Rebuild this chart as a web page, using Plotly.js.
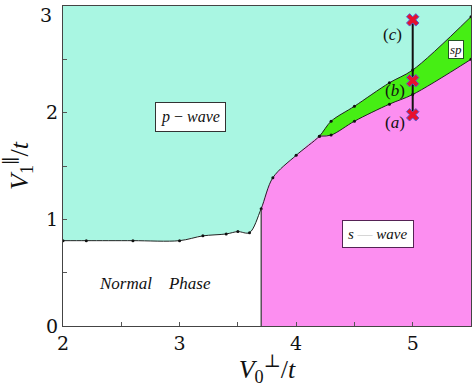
<!DOCTYPE html>
<html>
<head>
<meta charset="utf-8">
<script src="https://cdn.plot.ly/plotly-3.0.1.min.js"></script>
<style>html,body{margin:0;padding:0;background:#fff;}#chart{width:474px;height:387px;}</style>
</head>
<body>
<div id="chart"></div>
<script>
// p-wave lower boundary (Normal/p and s/p and sp/p)
const pBoundX = [2.0, 2.2, 2.6, 3.0, 3.2, 3.4, 3.5, 3.6, 3.7, 3.8, 4.0, 4.2, 4.3, 4.5, 4.8, 5.0, 5.5];
const pBoundY = [0.80, 0.80, 0.80, 0.80, 0.845, 0.863, 0.885, 0.875, 1.10, 1.39, 1.60, 1.78, 1.92, 2.06, 2.28, 2.40, 2.90];
// s-wave upper boundary
const sBoundX = [3.7, 3.8, 4.0, 4.2, 4.3, 4.5, 4.8, 5.0, 5.5];
const sBoundY = [1.10, 1.39, 1.60, 1.78, 1.79, 1.92, 2.08, 2.17, 2.50];
// s-wave left edge
const sEdgeX = [3.7, 3.7];
const sEdgeY = [0, 1.10];
// marked points
const markX = [5, 5, 5];
const markY = [1.98, 2.30, 2.87];
const markLabels = ['(a)', '(b)', '(c)'];
const labelX = [4.85, 4.85, 4.83];
const labelY = [1.91, 2.21, 2.73];
const xTicks = [2, 3, 4, 5];
const yTicks = [0, 1, 2, 3];
const yTickText = ['0', '1', '2', ''];   // top label "3" drawn below as an annotation
const topYLabel = '3';

const AQUA = '#a9f6e2', PINK = '#fc8ef0', GREEN = '#46ee14';
const serif = 'DejaVu Serif, Liberation Serif, serif';
const serif2 = 'Liberation Serif, DejaVu Serif, serif';

const greenX = pBoundX.filter(x => x >= 4.2);
const greenY = pBoundY.filter((y, i) => pBoundX[i] >= 4.2);
const normX = pBoundX.filter(x => x <= 3.7);
const normY = pBoundY.filter((y, i) => pBoundX[i] <= 3.7);
const SM = 0.9;

const traces = [
  {x: greenX, y: greenY, type: 'scatter', mode: 'lines', fill: 'tozeroy', fillcolor: GREEN,
   line: {width: 0, shape: 'spline', smoothing: SM}, hoverinfo: 'skip'},
  {x: sBoundX, y: sBoundY, type: 'scatter', mode: 'lines', fill: 'tozeroy', fillcolor: PINK,
   line: {width: 0, shape: 'spline', smoothing: SM}, hoverinfo: 'skip'},
  {x: normX, y: normY, type: 'scatter', mode: 'lines', fill: 'tozeroy', fillcolor: '#ffffff',
   line: {width: 0, shape: 'spline', smoothing: SM}, hoverinfo: 'skip'},
  {x: pBoundX, y: pBoundY, type: 'scatter', mode: 'lines+markers',
   line: {color: '#222', width: 1, shape: 'spline', smoothing: SM},
   marker: {color: '#111', size: 3}},
  {x: sBoundX.filter(x => x >= 4.2), y: sBoundY.filter((y, i) => sBoundX[i] >= 4.2), type: 'scatter', mode: 'lines+markers',
   line: {color: '#222', width: 1, shape: 'spline', smoothing: SM},
   marker: {color: '#111', size: 3}},
  {x: sEdgeX, y: sEdgeY, type: 'scatter', mode: 'lines', line: {color: '#333', width: 1.2}},
  {x: markX, y: markY, type: 'scatter', mode: 'lines+markers',
   line: {color: '#111', width: 2},
   marker: {symbol: 'x', size: 11, color: '#e8112d', line: {color: '#5a5ad0', width: 1}}}
];

const annotations = [
  {x: 3.09, y: 1.96, text: '<i>p</i> − <i>wave</i>', showarrow: false, bgcolor: '#fff',
   bordercolor: '#333', borderwidth: 1, borderpad: 5, font: {family: serif2, size: 16, color: '#111'}},
  {x: 4.70, y: 0.86, text: '<i>s</i> <span style="color:#bbb">—</span> <i>wave</i>', showarrow: false, bgcolor: '#fff',
   bordercolor: '#552255', borderwidth: 1, borderpad: 5, font: {family: serif2, size: 15, color: '#111'}},
  {x: 5.375, y: 2.59, text: '<i>sp</i>', showarrow: false, bgcolor: '#fff',
   bordercolor: '#225522', borderwidth: 1, borderpad: 1, font: {family: serif2, size: 13, color: '#111'}},
  {x: 2.79, y: 0.40, text: '<i>Normal</i>    <i>Phase</i>', showarrow: false,
   font: {family: serif2, size: 17, color: '#111'}},
  {xref: 'paper', yref: 'paper', x: 0, y: 1, xanchor: 'right', yanchor: 'top', xshift: -9, yshift: 4,
   text: topYLabel, showarrow: false, font: {family: serif, size: 19, color: '#111'}}
];
for (let i = 0; i < markLabels.length; i++) {
  annotations.push({x: labelX[i], y: labelY[i], text: markLabels[i].replace(/([a-z])/, '<i>$1</i>'),
    showarrow: false, font: {family: serif2, size: 17, color: '#111'}});
}

const layout = {
  width: 474, height: 387,
  margin: {l: 63, r: 3, t: 6, b: 61},
  paper_bgcolor: '#fff', plot_bgcolor: AQUA,
  showlegend: false,
  xaxis: {
    range: [2, 5.5], tickvals: xTicks, ticktext: xTicks.map(String),
    ticks: 'inside', ticklen: 4, tickcolor: '#555',
    minor: {ticks: 'inside', ticklen: 4, dtick: 0.5, tick0: 0, tickcolor: '#555'},
    showgrid: false, zeroline: false, showline: true, mirror: true, linecolor: '#444', linewidth: 1,
    tickfont: {family: serif, size: 19, color: '#111'},
    title: {text: '<i>V</i><sub>0</sub><sup>⊥</sup>/<i>t</i>', font: {family: serif2, size: 26, color: '#111'}, standoff: 10}
  },
  yaxis: {
    range: [0, 3], tickvals: yTicks, ticktext: yTickText,
    ticks: 'inside', ticklen: 4, tickcolor: '#555',
    minor: {ticks: 'inside', ticklen: 4, dtick: 0.5, tick0: 0, tickcolor: '#555'},
    showgrid: false, zeroline: false, showline: true, mirror: true, linecolor: '#444', linewidth: 1,
    tickfont: {family: serif, size: 19, color: '#111'},
    title: {text: '<i>V</i><sub>1</sub><sup>∥</sup>/<i>t</i>', font: {family: serif2, size: 26, color: '#111'}, standoff: 10}
  },
  annotations: annotations
};

Plotly.newPlot('chart', traces, layout, {displayModeBar: false, staticPlot: true});
</script>
</body>
</html>
